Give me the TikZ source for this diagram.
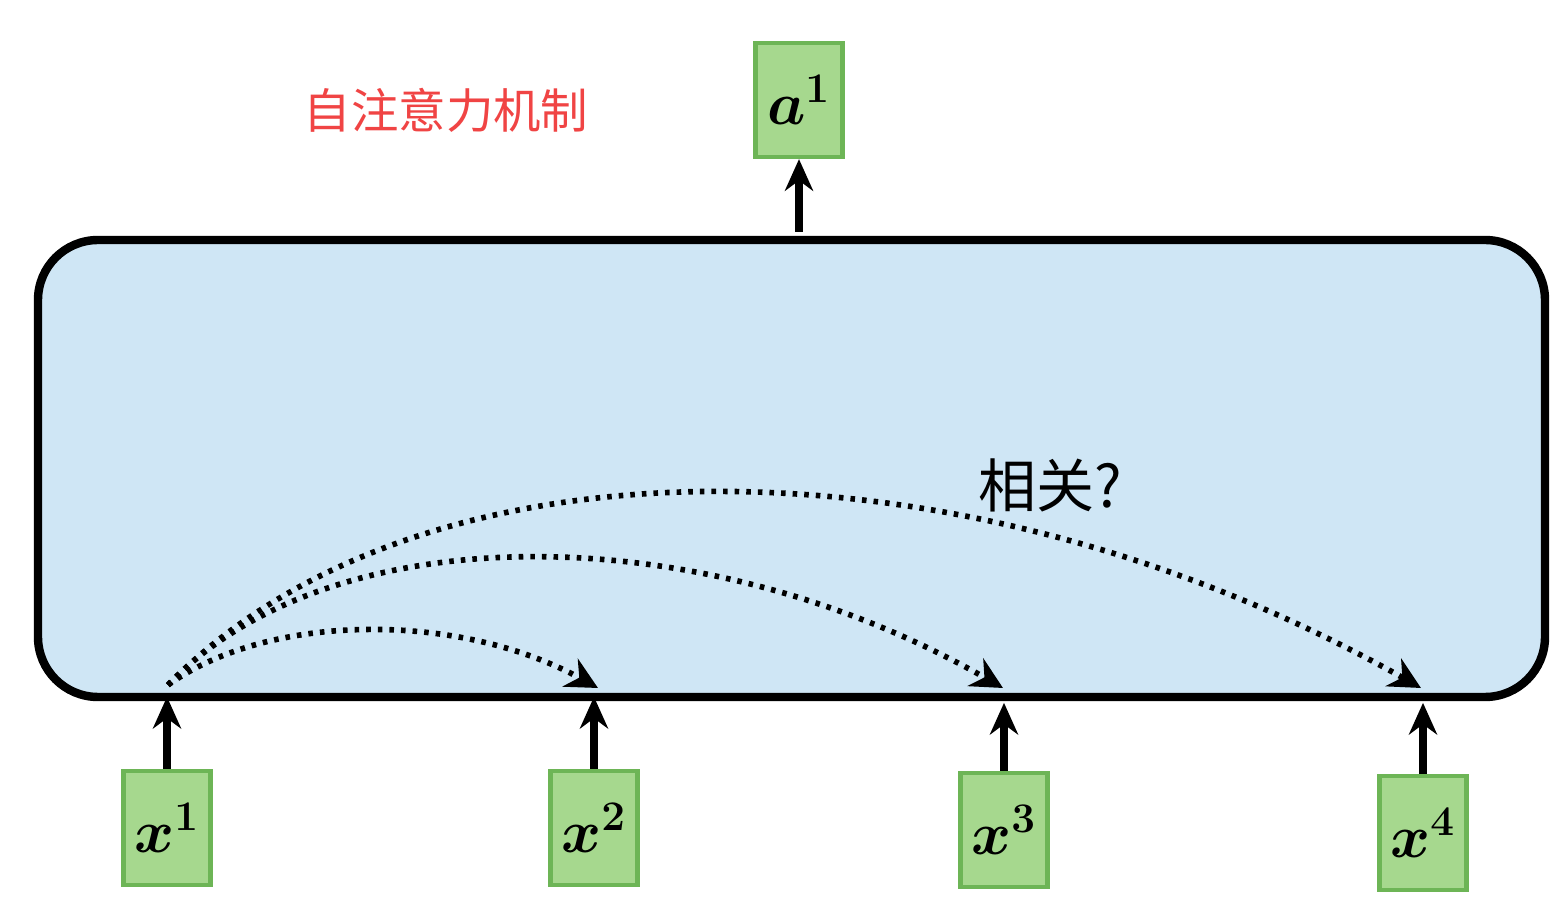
\documentclass[tikz,border=0pt]{standalone}
\usepackage{fontspec}
\usepackage{bm}
\newfontfamily\cjk{Noto Sans CJK SC}
\usetikzlibrary{arrows.meta}
\definecolor{boxblue}{HTML}{CFE6F5}
\definecolor{gfill}{HTML}{A6D88E}
\definecolor{gedge}{HTML}{6DB556}
\definecolor{titlered}{HTML}{F04444}
\begin{document}
\begin{tikzpicture}[x=0.01cm,y=-0.01cm,
  vec/.style={draw=gedge,fill=gfill,line width=1.2pt,minimum width=0.87cm,minimum height=1.14cm,inner sep=0pt,font=\fontsize{18}{22}\selectfont},
  up/.style={-{Stealth[length=9pt,width=8pt]},line width=2.2pt},
  dots/.style={line width=1.6pt,dash pattern=on 1.3pt off 2pt,-{Stealth[length=9pt,width=9pt]}}]
\useasboundingbox (0,0) rectangle (1560,922);
\draw[line width=2.4pt,fill=boxblue,rounded corners=0.6cm] (38,240) rectangle (1545,697);
\node[vec] (a1) at (799,100) {$\bm{a}^{\bm 1}$};
\node[vec] (x1) at (167,828) {$\bm{x}^{\bm 1}$};
\node[vec] (x2) at (594,828) {$\bm{x}^{\bm 2}$};
\node[vec] (x3) at (1004,830) {$\bm{x}^{\bm 3}$};
\node[vec] (x4) at (1423,833) {$\bm{x}^{\bm 4}$};
\coordinate (top) at (799,232);
\coordinate (s) at (168,685);
\coordinate (e2) at (598,688);
\coordinate (e3) at (1003,688);
\coordinate (e4) at (1421,688);
\draw[up] (top) -- (a1.south);
\draw[up] (x1.north) -- ++(0,-72);
\draw[up] (x2.north) -- ++(0,-72);
\draw[up] (x3.north) -- ++(0,-68);
\draw[up] (x4.north) -- ++(0,-71);
\draw[dots] (s) .. controls (270,612) and (460,612) .. (e2);
\draw[dots] (s) .. controls (330,515) and (700,515) .. (e3);
\draw[dots] (s) .. controls (420,428) and (960,428) .. (e4);
\node[text=titlered,font=\cjk\fontsize{13.5}{16}\selectfont] (title) at (446,110) {自注意力机制};
\node[font=\cjk\fontsize{16.5}{20}\selectfont] (rel) at (1050,485) {相关?};
\end{tikzpicture}
\end{document}
